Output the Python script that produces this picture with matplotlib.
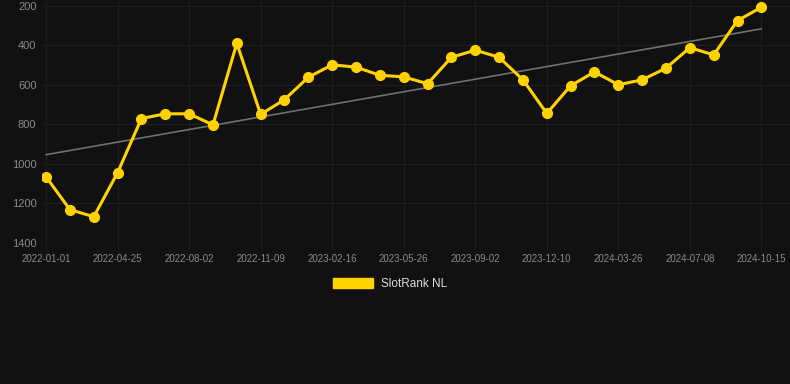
import matplotlib
matplotlib.use("Agg")
import matplotlib.pyplot as plt
from matplotlib.patches import Patch

plt.rcParams['font.family'] = ['Liberation Sans', 'DejaVu Sans']

dates = ["2022-01-01", "2022-04-25", "2022-08-02", "2022-11-09", "2023-02-16",
         "2023-05-26", "2023-09-02", "2023-12-10", "2024-03-26", "2024-07-08",
         "2024-10-15"]
ranks = [1065, 1231, 1267, 1044, 770, 746, 746, 802, 389, 749,
         674, 561, 498, 510, 551, 559, 594, 460, 424, 460,
         574, 744, 604, 534, 599, 574, 515, 411, 448, 274, 207]
trend = [953, 316]
series_name = "SlotRank NL"
yticks = [200, 400, 600, 800, 1000, 1200, 1400]

BG = "#111111"
GOLD = "#FFD200"

fig = plt.figure(figsize=(7.9, 3.84), dpi=100, facecolor=BG)
ax = fig.add_axes([42/790, 141/384, 748/790, 243/384])
ax.set_facecolor(BG)

xs = list(range(len(ranks)))
ax.plot([xs[0], xs[-1]], trend, color="#707070", lw=1.2, zorder=2)
ax.plot(xs, ranks, color=GOLD, lw=2.2, marker="o", ms=7, zorder=3)

ax.set_xlim(-0.17, 31.2)
ax.set_ylim(1400, 170)
ax.set_yticks(yticks)
ax.set_xticks(xs[::3])
ax.set_xticklabels(dates)
ax.grid(True, color="#1e1e1e", lw=0.8)
for s in ax.spines.values():
    s.set_visible(False)
ax.tick_params(axis="y", length=0, pad=4, labelsize=8, labelcolor="#8a8a8a")
ax.tick_params(axis="x", length=5, color="#1e1e1e", pad=3, labelsize=7, labelcolor="#8a8a8a")

fig.legend(handles=[Patch(facecolor=GOLD, edgecolor=GOLD, label=series_name)],
           loc="center", bbox_to_anchor=(390/790, 1 - 284/384),
           frameon=False, fontsize=8.5, labelcolor="#dddddd",
           handlelength=3.4, handleheight=0.95, handletextpad=0.6)

fig.savefig("out.png", dpi=100, facecolor=BG)
